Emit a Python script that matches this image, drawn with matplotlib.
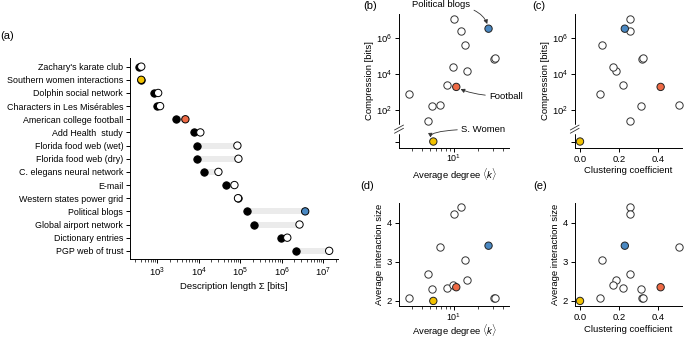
import numpy as np
import matplotlib
matplotlib.use("Agg")
import matplotlib.pyplot as plt
from matplotlib.ticker import FixedLocator, NullFormatter, NullLocator, LogLocator

plt.rcParams['font.family'] = ['Liberation Sans', 'DejaVu Sans']
plt.rcParams['mathtext.fontset'] = 'custom'
plt.rcParams['mathtext.rm'] = 'Liberation Sans'
plt.rcParams['mathtext.it'] = 'Liberation Sans:italic'
plt.rcParams['font.size'] = 6.5
plt.rcParams['axes.linewidth'] = 0.7
plt.rcParams['xtick.major.width'] = 0.7
plt.rcParams['ytick.major.width'] = 0.7
plt.rcParams['xtick.minor.width'] = 0.5
plt.rcParams['xtick.major.size'] = 3
plt.rcParams['ytick.major.size'] = 3
plt.rcParams['xtick.minor.size'] = 1.8
plt.rcParams['xtick.major.pad'] = 2
plt.rcParams['ytick.major.pad'] = 2

# ---------------------------------------------------------------------------
# Data
# ---------------------------------------------------------------------------
names = [
    "Zachary's karate club",
    "Southern women interactions",
    "Dolphin social network",
    "Characters in Les Mis\u00e9rables",
    "American college football",
    "Add Health  study",
    "Florida food web (wet)",
    "Florida food web (dry)",
    "C. elegans neural network",
    "E-mail",
    "Western states power grid",
    "Political blogs",
    "Global airport network",
    "Dictionary entries",
    "PGP web of trust",
]
# description length, hypergraph model (filled) and pairwise model (open)
dl_hyper = [375, 415, 860, 985, 2800, 7900, 9200, 9200, 13800, 46000,
            88000, 1.45e5, 2.2e5, 9.5e5, 2.2e6]
dl_graph = [415, 415, 1060, 1180, 4800, 1.1e4, 8.6e4, 9.1e4, 3.0e4, 7.3e4,
            8.9e4, 3.7e6, 2.7e6, 1.37e6, 1.4e7]
avg_degree = [4.73, 5.57, 5.3, 6.7, 10.7, 8.2, 31.5, 32.2, 14.4, 9.7,
              2.82, 26.8, 12.3, 13.7, 10.0]
clustering = [0.258, 0.0, 0.312, 0.504, 0.412, 0.219, 0.317, 0.321, 0.185,
              0.168, 0.103, 0.229, 0.256, 0.113, 0.256]
compression = [25, 0, 155, 182, 1900, 2570, 7.2e4, 7.6e4, 1.48e4, 2.34e4,
               740, 3.3e6, 2.6e6, 4.1e5, 1.1e7]
interaction_size = [2.69, 2.0, 2.31, 3.37, 2.35, 2.33, 2.08, 2.07, 2.54,
                    2.40, 2.08, 3.41, 4.40, 3.05, 4.21]

highlight = {
    "Southern women interactions": "#F2C200",
    "American college football": "#EE6A45",
    "Political blogs": "#4A88C2",
}

ZERO_POS = 10 ** 0.24  # where "zero compression" sits below the axis break

MS = 28
EDGE = "#222222"
FS = 6.8

# ---------------------------------------------------------------------------
fig = plt.figure(figsize=(6.85, 3.39), dpi=100)

# (a) description lengths
ax = fig.add_axes([0.19, 0.236, 0.3036, 0.593])
y = np.arange(len(names))
lo = np.array(dl_hyper)
hi = np.array(dl_graph)
ax.barh(y, hi - lo, left=lo, height=0.46, color="#ebebeb", zorder=1)
ax.scatter(lo, y, s=MS, c="black", edgecolors="black", lw=0.7, zorder=2)
open_cols = [highlight.get(n, "white") for n in names]
ax.scatter(hi, y, s=MS, c=open_cols, edgecolors="black", lw=0.7, zorder=3)
ax.set_xscale("log")
ax.set_xlim(224, 2.3e7)
ax.set_ylim(14.62, -0.66)
ax.set_yticks(y)
ax.set_yticklabels(names, fontsize=6.4)
ax.xaxis.set_major_locator(LogLocator(base=10, numticks=10))
ax.xaxis.set_minor_formatter(NullFormatter())
ax.set_xticks([1e3, 1e4, 1e5, 1e6, 1e7])
ax.tick_params(axis="x", labelsize=FS)
ax.set_xlabel("Description length \u03a3 [bits]", fontsize=FS, va="center")
ax.xaxis.set_label_coords(0.5, (259 - 287) / 201)
for s in ("top", "right"):
    ax.spines[s].set_visible(False)
fig.text(0.0, 1 - 36 / 339, "(a)", fontsize=8, va="center", ha="left")


def style_scatter(ax, xs, ys):
    cols = [highlight.get(n) for n in names]
    plain = [i for i, c in enumerate(cols) if c is None]
    marked = [i for i, c in enumerate(cols) if c is not None]
    ax.scatter([xs[i] for i in plain], [ys[i] for i in plain], s=MS, c="white",
               edgecolors="#333333", lw=0.7, zorder=3, clip_on=False)
    ax.scatter([xs[i] for i in marked], [ys[i] for i in marked], s=MS,
               c=[cols[i] for i in marked], edgecolors=EDGE, lw=0.7, zorder=4,
               clip_on=False)
    for s in ("top", "right"):
        ax.spines[s].set_visible(False)
    ax.tick_params(labelsize=FS)


def axis_break(ax, frac):
    ax.plot([0, 0], [frac - 0.022, frac + 0.022], color="white", lw=2.5,
            transform=ax.transAxes, clip_on=False, zorder=5)
    for off in (-0.012, 0.012):
        ax.plot([-0.04, 0.04], [frac + off - 0.018, frac + off + 0.018],
                color="#333333", lw=0.6, transform=ax.transAxes,
                clip_on=False, zorder=6)


comp_plot = [c if c > 0 else ZERO_POS for c in compression]
top_b = [0.5825, 0.564, 0.1606, 0.396]
top_c = [0.839, 0.564, 0.156, 0.396]
bot_d = [0.5825, 0.0973, 0.1606, 0.305]
bot_e = [0.839, 0.0973, 0.156, 0.305]
KLIM = (2.1, 48)
CLIM = (-0.027, 0.519)
COMPLIM = (10 ** -0.11, 10 ** 7.36)
SIZELIM = (1.87, 4.51)


def comp_yaxis(ax, xlab):
    ax.set_yscale("log")
    ax.set_ylim(*COMPLIM)
    ax.yaxis.set_major_locator(FixedLocator([ZERO_POS, 1e2, 1e4, 1e6]))
    ax.set_yticklabels(["", "$10^2$", "$10^4$", "$10^6$"])
    ax.yaxis.set_minor_locator(NullLocator())
    ax.set_ylabel("Compression [bits]", fontsize=FS, va="center")
    ax.yaxis.set_label_coords(xlab, 0.5)
    axis_break(ax, 0.139)


def k_xaxis(ax, ylab):
    ax.set_xscale("log")
    ax.set_xlim(*KLIM)
    ax.set_xticks([10])
    ax.set_xticklabels(["$10^1$"], fontsize=6.4)
    ax.xaxis.set_minor_formatter(NullFormatter())
    ax.tick_params(axis="x", pad=0.5)
    ax.set_xlabel(r"Average degree $\langle k \rangle$", fontsize=FS, va="center")
    ax.xaxis.set_label_coords(0.5, ylab)


def c_xaxis(ax, ylab):
    ax.set_xlim(*CLIM)
    ax.set_xticks([0.0, 0.2, 0.4])
    ax.set_xticklabels(["0.0", "0.2", "0.4"])
    ax.set_xlabel("Clustering coefficient", fontsize=FS, va="center")
    ax.xaxis.set_label_coords(0.5, ylab)


def size_yaxis(ax, xlab):
    ax.set_ylim(*SIZELIM)
    ax.set_yticks([2, 3, 4])
    ax.set_ylabel("Average interaction size", fontsize=FS, va="center")
    ax.yaxis.set_label_coords(xlab, 0.5)


# (b)
axb = fig.add_axes(top_b)
style_scatter(axb, avg_degree, comp_plot)
k_xaxis(axb, (147.7 - 174.5) / 134.4)
comp_yaxis(axb, -0.264)
arrow = dict(arrowstyle="-|>,head_length=0.35,head_width=0.18", color="#333333",
             lw=0.6, shrinkA=1, shrinkB=3.5)
i_pb = names.index("Political blogs")
axb.annotate("Political blogs", xy=(avg_degree[i_pb], comp_plot[i_pb]),
             xytext=(15.8, 10 ** 7.87), ha="right", va="center", fontsize=FS,
             annotation_clip=False,
             arrowprops=dict(connectionstyle="angle3,angleA=0,angleB=-80", **arrow))
i_fb = names.index("American college football")
axb.annotate("Football", xy=(avg_degree[i_fb], comp_plot[i_fb]),
             xytext=(27.5, 10 ** 2.76), ha="left", va="center", fontsize=FS,
             annotation_clip=False,
             arrowprops=dict(connectionstyle="angle3,angleA=0,angleB=-30", **arrow))
i_sw = names.index("Southern women interactions")
axb.annotate("S. Women", xy=(avg_degree[i_sw], comp_plot[i_sw]),
             xytext=(12.4, 10 ** 0.93), ha="left", va="center", fontsize=FS,
             annotation_clip=False,
             arrowprops=dict(connectionstyle="angle3,angleA=0,angleB=-40", **arrow))

# (c)
axc = fig.add_axes(top_c)
style_scatter(axc, clustering, comp_plot)
c_xaxis(axc, (147.7 - 170) / 134.4)
comp_yaxis(axc, -0.275)

# (d)
axd = fig.add_axes(bot_d)
style_scatter(axd, avg_degree, interaction_size)
k_xaxis(axd, (306 - 330.5) / 103.4)
size_yaxis(axd, -0.173)

# (e)
axe = fig.add_axes(bot_e)
style_scatter(axe, clustering, interaction_size)
c_xaxis(axe, (306 - 329) / 103.4)
size_yaxis(axe, -0.184)

fig.text(363 / 685, 1 - 6 / 339, "(b)", fontsize=8, va="center", ha="left")
fig.text(532 / 685, 1 - 6 / 339, "(c)", fontsize=8, va="center", ha="left")
fig.text(360 / 685, 1 - 186 / 339, "(d)", fontsize=8, va="center", ha="left")
fig.text(533 / 685, 1 - 186 / 339, "(e)", fontsize=8, va="center", ha="left")

fig.savefig("out.png", dpi=100)
